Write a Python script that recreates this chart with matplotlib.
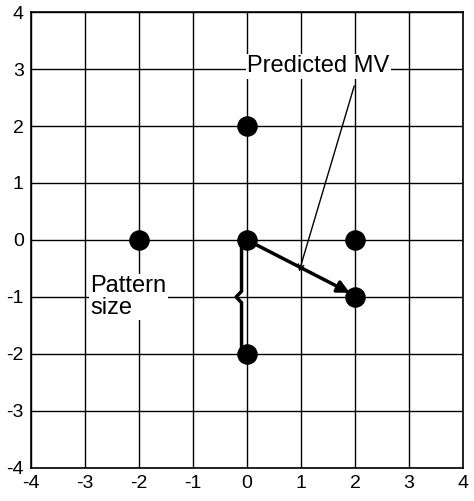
import matplotlib
matplotlib.use('Agg')
import matplotlib.pyplot as plt

plt.rcParams['axes.unicode_minus'] = False

# Search pattern points
pts_x = [0, -2, 0, 2, 2, 0]
pts_y = [2, 0, 0, 0, -1, -2]
ticks = [-4, -3, -2, -1, 0, 1, 2, 3, 4]

fig = plt.figure(figsize=(4.74, 5.01), dpi=100)
ax = fig.add_axes([0.065, 0.066, 0.912, 0.91])
ax.set_xlim(-4, 4)
ax.set_ylim(-4, 4)
ax.set_xticks(ticks)
ax.set_yticks(ticks)
ax.tick_params(labelsize=14, length=0, pad=5)
for lab in ax.get_xticklabels() + ax.get_yticklabels():
    lab.set_family('Liberation Sans')
ax.grid(True, color='black', linewidth=1)
for s in ax.spines.values():
    s.set_linewidth(1.2)

ax.scatter(pts_x, pts_y, s=190, color='black', zorder=3)

# predicted motion vector
ax.annotate('', xy=(pts_x[4] - 0.05, pts_y[4] + 0.05), xytext=(0, 0),
            arrowprops=dict(arrowstyle='-|>', lw=2.5, color='black',
                            mutation_scale=18), zorder=4)
ax.text(0.0, 3.05, 'Predicted MV', fontsize=17, family='Liberation Sans',
        ha='left', va='center',
        bbox=dict(facecolor='white', edgecolor='none', pad=1))
ax.annotate('', xy=(0.95, -0.6), xytext=(2.0, 2.75),
            arrowprops=dict(arrowstyle='->', lw=1, color='black'))

# brace for pattern size
ax.plot([-0.05, -0.1, -0.1, -0.2, -0.1, -0.1, -0.05],
        [0, -0.1, -0.9, -1.0, -1.1, -1.9, -2.0], color='black', lw=2.5)
ax.text(-2.9, -1.0, 'Pattern\nsize', fontsize=17, family='Liberation Sans',
        ha='left', va='center', linespacing=1.0,
        bbox=dict(facecolor='white', edgecolor='none', pad=1))

fig.savefig('out.png', dpi=100)
plt.close()
